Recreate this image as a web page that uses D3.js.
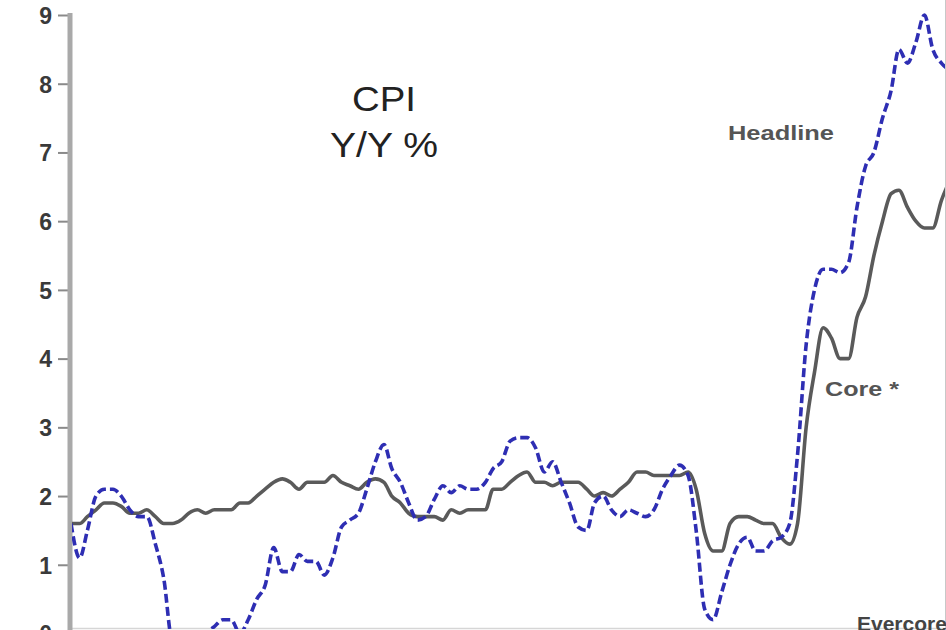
<!DOCTYPE html>
<html>
<head>
<meta charset="utf-8">
<script src="https://cdn.jsdelivr.net/npm/d3@7/dist/d3.min.js"></script>
<style>
  html, body { margin: 0; padding: 0; background: #fff; }
  svg { display: block; }
</style>
</head>
<body>
<svg id="chart" width="946" height="630"></svg>
<script>
// ---- data (monthly, Jan 2014 - Sep 2022), Y/Y % ----
const startMonth = "2014-01";
const endMonth = "2022-09";
const headline = [
  1.6, 1.1, 1.5, 2.0, 2.1, 2.1, 2.0, 1.8, 1.7, 1.7, 1.3, 0.8,
  -0.1, 0.0, -0.1, -0.2, 0.0, 0.1, 0.2, 0.2, 0.0, 0.2, 0.5, 0.7,
  1.25, 0.9, 0.9, 1.15, 1.05, 1.05, 0.85, 1.1, 1.55, 1.65, 1.75, 2.1,
  2.5, 2.75, 2.4, 2.2, 1.9, 1.65, 1.7, 1.95, 2.15, 2.05, 2.15, 2.1,
  2.1, 2.2, 2.4, 2.5, 2.8, 2.85, 2.85, 2.7, 2.35, 2.5, 2.2, 1.9,
  1.55, 1.5, 1.9, 2.0, 1.8, 1.7, 1.8, 1.75, 1.7, 1.8, 2.1, 2.3,
  2.45, 2.3, 1.5, 0.35, 0.2, 0.6, 1.0, 1.3, 1.4, 1.2, 1.2, 1.35,
  1.4, 1.6, 2.6, 4.2, 5.0, 5.3, 5.3, 5.25, 5.4, 6.2, 6.8, 7.0,
  7.5, 7.9, 8.5, 8.3, 8.6, 9.0, 8.5, 8.3, 8.2
];
const core = [
  1.6, 1.6, 1.7, 1.8, 1.9, 1.9, 1.85, 1.75, 1.75, 1.8, 1.7, 1.6,
  1.6, 1.65, 1.75, 1.8, 1.75, 1.8, 1.8, 1.8, 1.9, 1.9, 2.0, 2.1,
  2.2, 2.25, 2.2, 2.1, 2.2, 2.2, 2.2, 2.3, 2.2, 2.15, 2.1, 2.2,
  2.25, 2.2, 2.0, 1.9, 1.75, 1.7, 1.7, 1.7, 1.65, 1.8, 1.75, 1.8,
  1.8, 1.8, 2.1, 2.1, 2.2, 2.3, 2.35, 2.2, 2.2, 2.15, 2.2, 2.2,
  2.2, 2.1, 2.0, 2.05, 2.0, 2.1, 2.2, 2.35, 2.35, 2.3, 2.3, 2.3,
  2.3, 2.35, 2.1, 1.45, 1.2, 1.2, 1.6, 1.7, 1.7, 1.65, 1.6, 1.6,
  1.4, 1.3, 1.6, 3.0, 3.8, 4.45, 4.3, 4.0, 4.0, 4.6, 4.9, 5.5,
  6.0, 6.4, 6.45, 6.2, 6.0, 5.9, 5.9, 6.3, 6.6
];
const yTicks = [0, 1, 2, 3, 4, 5, 6, 7, 8, 9];
const titleLines = ["CPI", "Y/Y %"];
const seriesLabels = ["Headline", "Core *"];
const sourceLabel = "Evercore ISI";

// ---- build ----
const parse = d3.timeParse("%Y-%m");
const t0 = parse(startMonth), t1 = parse(endMonth);
const months = d3.timeMonth.range(t0, d3.timeMonth.offset(t1, 1));
const headData = months.map((d, i) => ({ date: d, v: headline[i] }));
const coreData = months.map((d, i) => ({ date: d, v: core[i] }));

const svg = d3.select("#chart");
const axisX = 70;
const x = d3.scaleTime().domain([t0, t1]).range([71, 950]);
const y = d3.scaleLinear().domain([0, 9]).range([633.5, 15]);

svg.append("defs").append("clipPath").attr("id", "plot")
  .append("rect").attr("x", 72).attr("y", 0).attr("width", 873).attr("height", 629);

// bottom frame line and right frame line
svg.append("line").attr("x1", axisX).attr("x2", 946).attr("y1", 628.5).attr("y2", 628.5)
  .attr("stroke", "#d6d6d6").attr("stroke-width", 1.5);
svg.append("line").attr("x1", 945.5).attr("x2", 945.5).attr("y1", 0).attr("y2", 630)
  .attr("stroke", "#c8c8c8").attr("stroke-width", 1);

// y axis
const yAxis = d3.axisLeft(y).tickValues(yTicks).tickSize(10).tickPadding(6).tickFormat(d3.format("d"));
const gy = svg.append("g").attr("transform", `translate(${axisX - 2},0)`).call(yAxis);
gy.select(".domain").remove();
gy.selectAll(".tick line").attr("stroke", "#8a8a8a").attr("stroke-width", 2);
gy.selectAll(".tick text")
  .attr("font-family", "Liberation Sans, Arial, sans-serif")
  .attr("font-size", 23).attr("font-weight", "bold").attr("fill", "#3a3a3a")
  .attr("dy", "0.36em");
svg.append("line").attr("x1", axisX).attr("x2", axisX).attr("y1", 13).attr("y2", 630)
  .attr("stroke", "#a9a9a9").attr("stroke-width", 5);

// lines
const line = d3.line().x(d => x(d.date)).y(d => y(d.v)).curve(d3.curveMonotoneX);
const plot = svg.append("g").attr("clip-path", "url(#plot)");
plot.append("path").datum(coreData).attr("d", line)
  .attr("fill", "none").attr("stroke", "#5a5a5a").attr("stroke-width", 3.6)
  .attr("stroke-linejoin", "round");
plot.append("path").datum(headData).attr("d", line)
  .attr("fill", "none").attr("stroke", "#2e2eb3").attr("stroke-width", 3.6)
  .attr("stroke-dasharray", "9,4");

// title
const font = "Liberation Sans, Arial, sans-serif";
svg.append("text").attr("x", 384).attr("y", 111).attr("text-anchor", "middle")
  .attr("font-family", font).attr("font-size", 35).attr("fill", "#222")
  .attr("textLength", 64).attr("lengthAdjust", "spacingAndGlyphs").text(titleLines[0]);
svg.append("text").attr("x", 384).attr("y", 157).attr("text-anchor", "middle")
  .attr("font-family", font).attr("font-size", 35).attr("fill", "#222")
  .attr("textLength", 108).attr("lengthAdjust", "spacingAndGlyphs").text(titleLines[1]);

// series labels
svg.append("text").attr("x", 728).attr("y", 140)
  .attr("font-family", font).attr("font-size", 21).attr("font-weight", "bold").attr("fill", "#555")
  .attr("textLength", 106).attr("lengthAdjust", "spacingAndGlyphs").text(seriesLabels[0]);
svg.append("text").attr("x", 825).attr("y", 396)
  .attr("font-family", font).attr("font-size", 20).attr("font-weight", "bold").attr("fill", "#555")
  .attr("textLength", 74).attr("lengthAdjust", "spacingAndGlyphs").text(seriesLabels[1]);

// source
svg.append("text").attr("x", 857).attr("y", 631)
  .attr("font-family", font).attr("font-size", 21).attr("font-weight", "bold").attr("fill", "#444")
  .text(sourceLabel);
</script>
</body>
</html>
